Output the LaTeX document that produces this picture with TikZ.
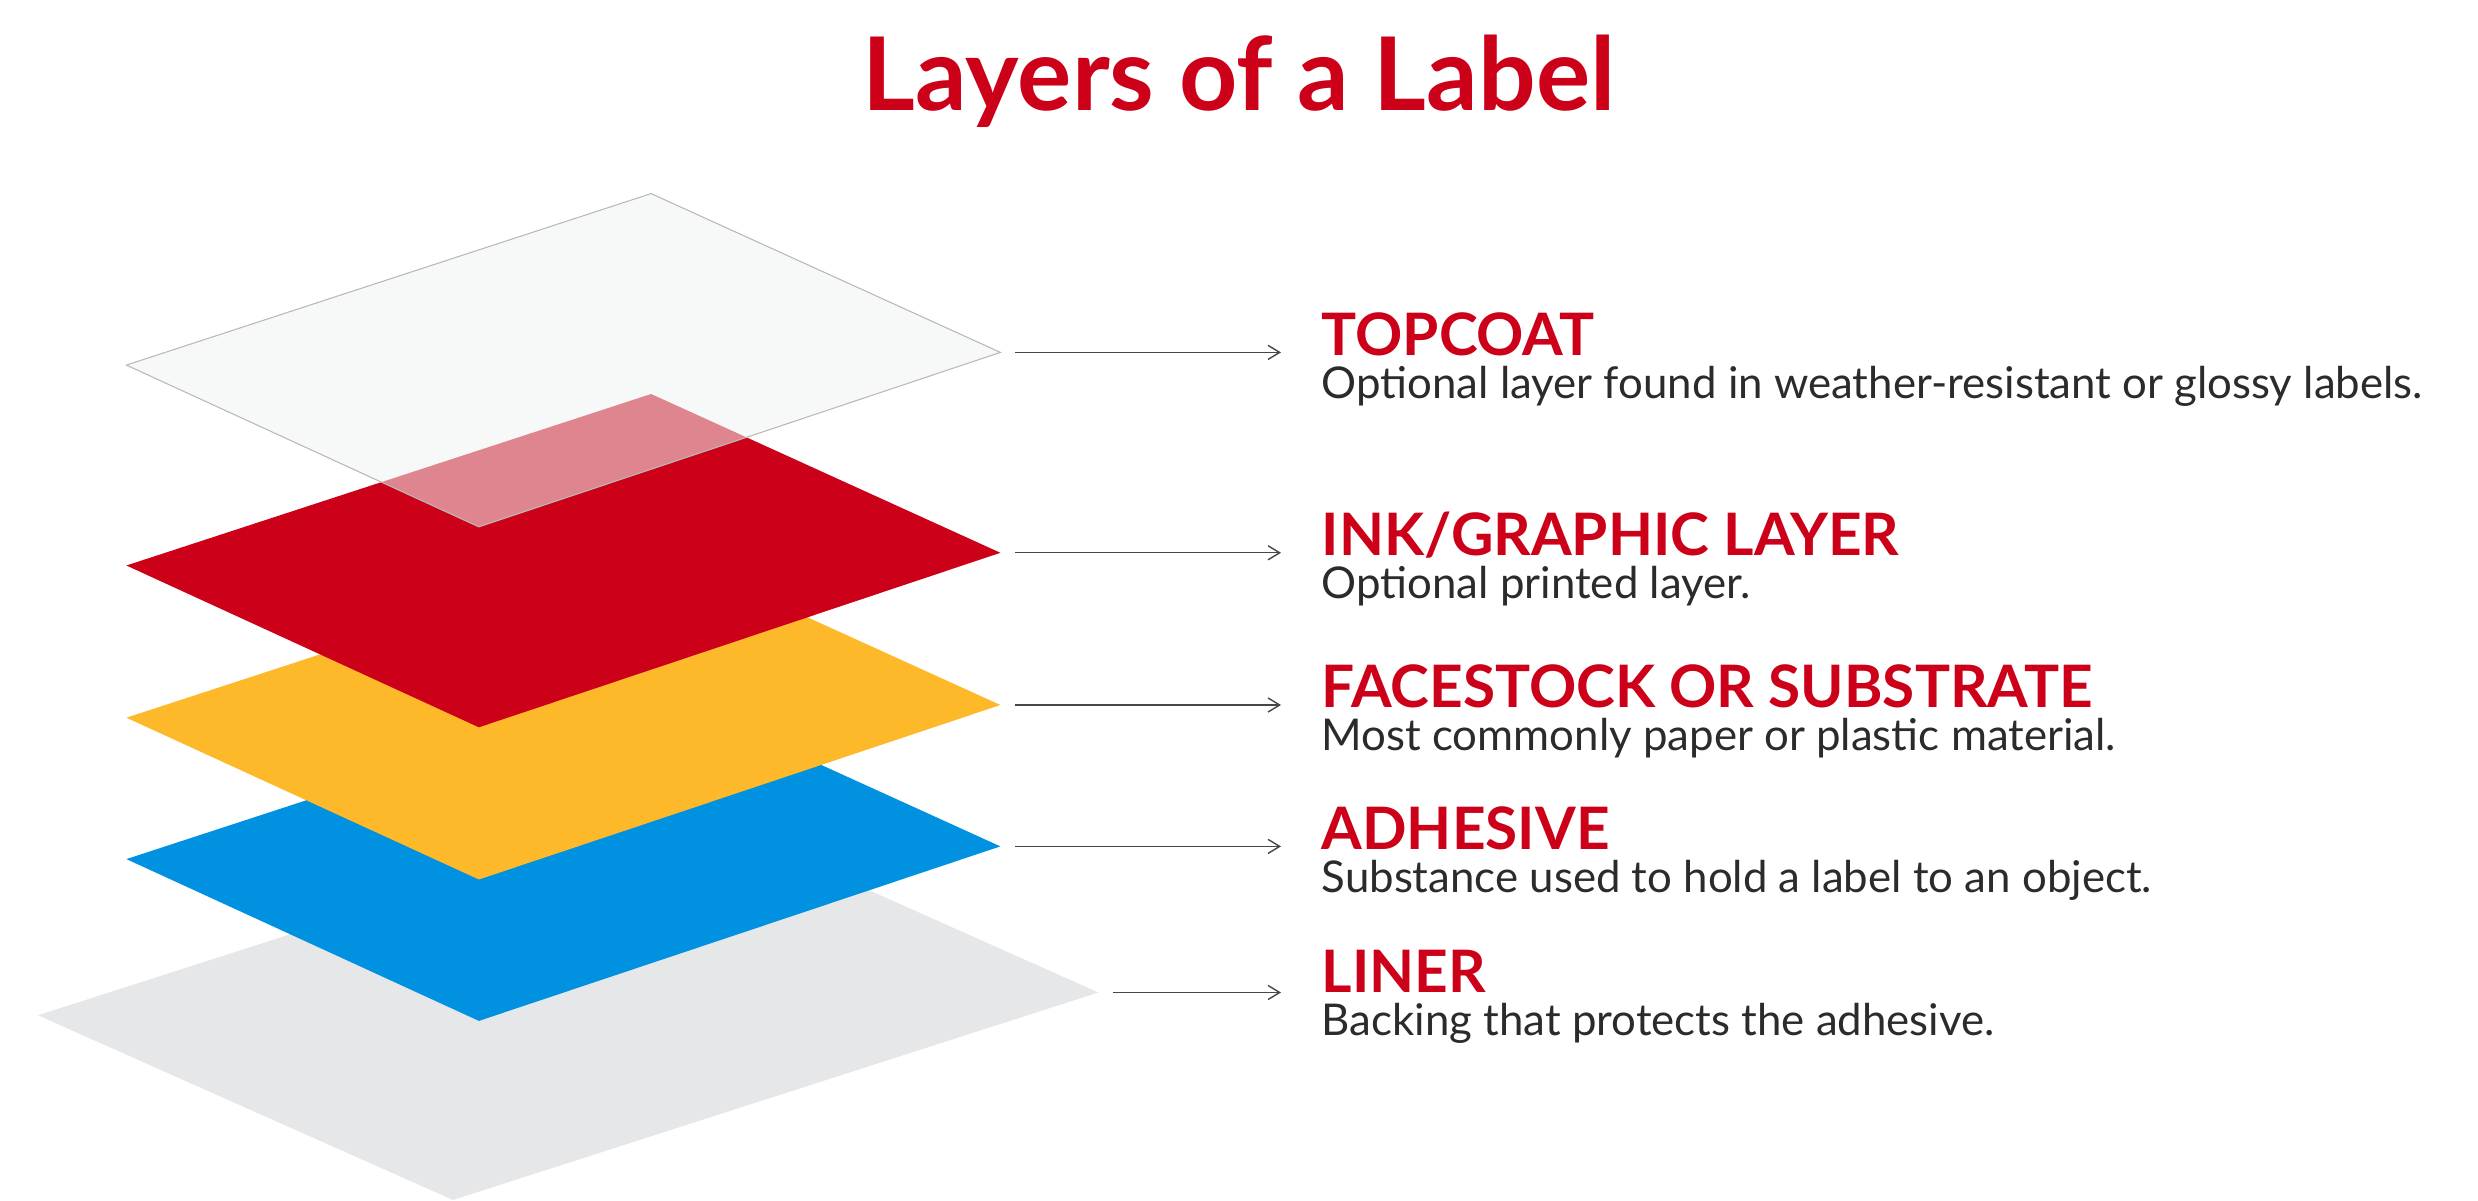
\documentclass[tikz,border=0pt]{standalone}
\usepackage{fontspec}
\setmainfont{Lato}
\usetikzlibrary{arrows.meta,calc,positioning}
\definecolor{labelred}{RGB}{204,0,24}
\definecolor{labelyellow}{RGB}{253,185,42}
\definecolor{labelblue}{RGB}{0,145,224}
\definecolor{linergray}{RGB}{230,231,232}
\definecolor{coatgray}{RGB}{240,243,242}
\definecolor{textgray}{RGB}{43,43,43}
\tikzset{
  pointer/.style={draw=black!72,line width=0.4pt,-{Straight Barb[length=3.3pt,width=4pt]}},
  heading/.style={anchor=base west,inner sep=0pt,text=labelred,
    font=\fontsize{16.65}{20}\selectfont\bfseries},
  desc/.style={anchor=base west,inner sep=0pt,text=textgray,
    font=\fontsize{12.45}{15}\selectfont},
  bigtitle/.style={anchor=base,inner sep=0pt,text=labelred,
    font=\fontsize{28.9}{32}\selectfont\bfseries},
}
\begin{document}
\begin{tikzpicture}[x=0.01cm,y=-0.01cm]
  \useasboundingbox (0,0) rectangle (2478,1201);
  \node[bigtitle] (title) at (1239,110.7) {Layers of a Label};
  % liner
  \fill[linergray] (37.9,1015.3) -- (453,1200) -- (1098.4,992.5) -- (684.3,807.8) -- cycle;
  \coordinate (linerR) at (1098.4,992.5);
  % adhesive, facestock, ink
  \foreach \col/\ly/\nm in {labelblue/859.1/adh,labelyellow/717.7/face,labelred/565.5/ink}{
    \fill[\col] (126.4,\ly) -- ++(352.5,161.8) -- ++(521.5,-174.5) -- ++(-349.3,-158.8) -- cycle;
    \path (126.4,\ly) ++(874,-12.7) coordinate (\nm R);
  }
  % topcoat
  \draw[fill=coatgray,fill opacity=0.55,draw=black!28,line width=0.3pt]
    (126.4,365.1) -- ++(352.5,161.8) -- ++(521.5,-174.5) -- ++(-349.3,-158.8) -- cycle;
  \path (126.4,365.1) ++(874,-12.7) coordinate (coatR);

  \node[heading] (coat) at (1321,355.2) {TOPCOAT};
  \node[desc] (coatdesc) at ([yshift=-0.43cm]coat.base west)
    {Optional layer found in weather-resistant or glossy labels.};
  \node[heading] (ink) at (1321,555.5) {INK/GRAPHIC LAYER};
  \node[desc] (inkdesc) at ([yshift=-0.43cm]ink.base west) {Optional printed layer.};
  \node[heading] (face) at (1321,707.6) {FACESTOCK OR SUBSTRATE};
  \node[desc] (facedesc) at ([yshift=-0.43cm]face.base west)
    {Most commonly paper or plastic material.};
  \node[heading] (adh) at (1321,849.8) {ADHESIVE};
  \node[desc] (adhdesc) at ([yshift=-0.43cm]adh.base west)
    {Substance used to hold a label to an object.};
  \node[heading] (liner) at (1321,992.5) {LINER};
  \node[desc] (linerdesc) at ([yshift=-0.43cm]liner.base west)
    {Backing that protects the adhesive.};

  \draw[pointer] ([xshift=0.145cm]coatR) -- ($(coatR -| coat.west)+(-40,0)$);
  \draw[pointer] ([xshift=0.145cm]inkR) -- ($(inkR -| ink.west)+(-40,0)$);
  \draw[pointer] ([xshift=0.145cm]faceR) -- ($(faceR -| face.west)+(-40,0)$);
  \draw[pointer] ([xshift=0.145cm]adhR) -- ($(adhR -| adh.west)+(-40,0)$);
  \draw[pointer] ([xshift=0.145cm]linerR) -- ($(linerR -| liner.west)+(-40,0)$);
\end{tikzpicture}
\end{document}
